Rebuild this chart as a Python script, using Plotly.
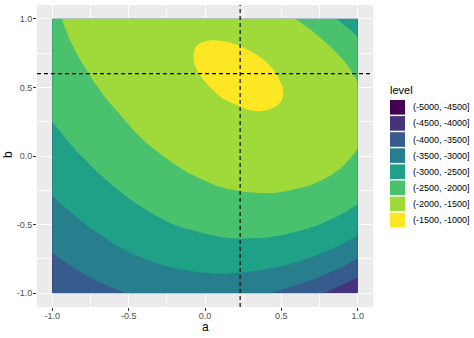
import plotly.graph_objects as go

# ---- data ----
a_vals = [-1.0, -0.9, -0.8, -0.7, -0.6, -0.5, -0.4, -0.3, -0.2, -0.1, 0.0,
          0.1, 0.2, 0.3, 0.4, 0.5, 0.6, 0.7, 0.8, 0.9, 1.0]
b_vals = [-1.0, -0.9, -0.8, -0.7, -0.6, -0.5, -0.4, -0.3, -0.2, -0.1, 0.0,
          0.1, 0.2, 0.3, 0.4, 0.5, 0.6, 0.7, 0.8, 0.9, 1.0]

# estimated surface value at each (b row, a column)
z_vals = [
    [-3918, -3818, -3724, -3638, -3560, -3491, -3432, -3384, -3349, -3327, -3321, -3331, -3359, -3408, -3480, -3576, -3700, -3854, -4041, -4266, -4532],
    [-3770, -3665, -3567, -3476, -3392, -3316, -3250, -3194, -3149, -3116, -3097, -3093, -3106, -3138, -3190, -3264, -3364, -3491, -3649, -3840, -4069],
    [-3630, -3520, -3420, -3320, -3240, -3150, -3080, -3020, -2970, -2930, -2900, -2880, -2880, -2900, -2940, -2990, -3070, -3180, -3310, -3480, -3670],
    [-3490, -3380, -3280, -3180, -3090, -3000, -2930, -2860, -2800, -2750, -2710, -2690, -2680, -2690, -2710, -2750, -2820, -2910, -3020, -3160, -3340],
    [-3360, -3250, -3150, -3050, -2950, -2860, -2780, -2710, -2650, -2590, -2550, -2520, -2500, -2500, -2510, -2540, -2600, -2670, -2770, -2890, -3050],
    [-3240, -3130, -3020, -2920, -2820, -2730, -2650, -2570, -2500, -2450, -2400, -2360, -2340, -2330, -2340, -2360, -2400, -2460, -2550, -2660, -2800],
    [-3130, -3010, -2900, -2800, -2700, -2610, -2520, -2440, -2370, -2310, -2260, -2220, -2190, -2180, -2180, -2190, -2230, -2280, -2360, -2460, -2590],
    [-3010, -2900, -2790, -2690, -2590, -2490, -2410, -2320, -2250, -2190, -2130, -2090, -2060, -2040, -2040, -2050, -2080, -2130, -2190, -2290, -2410],
    [-2910, -2790, -2680, -2580, -2480, -2380, -2300, -2210, -2140, -2080, -2020, -1970, -1940, -1920, -1910, -1920, -1950, -1990, -2050, -2140, -2260],
    [-2810, -2690, -2580, -2480, -2380, -2280, -2190, -2110, -2040, -1970, -1920, -1870, -1830, -1810, -1800, -1810, -1830, -1870, -1940, -2020, -2130],
    [-2710, -2600, -2490, -2380, -2280, -2190, -2100, -2020, -1940, -1880, -1820, -1770, -1740, -1720, -1710, -1710, -1740, -1780, -1840, -1930, -2040],
    [-2630, -2510, -2400, -2300, -2200, -2100, -2010, -1930, -1860, -1790, -1740, -1690, -1660, -1640, -1630, -1640, -1660, -1700, -1770, -1850, -1970],
    [-2540, -2430, -2320, -2210, -2110, -2020, -1930, -1850, -1780, -1720, -1660, -1620, -1590, -1570, -1560, -1570, -1600, -1650, -1720, -1810, -1920],
    [-2460, -2350, -2240, -2140, -2040, -1950, -1860, -1780, -1710, -1650, -1600, -1560, -1530, -1510, -1510, -1530, -1560, -1610, -1690, -1780, -1910],
    [-2380, -2270, -2170, -2060, -1970, -1880, -1800, -1720, -1650, -1600, -1550, -1510, -1490, -1480, -1480, -1500, -1540, -1600, -1680, -1790, -1920],
    [-2310, -2201, -2098, -1999, -1907, -1821, -1741, -1670, -1607, -1554, -1511, -1479, -1461, -1456, -1468, -1496, -1544, -1612, -1704, -1822, -1968],
    [-2243, -2138, -2037, -1942, -1853, -1771, -1696, -1629, -1571, -1523, -1486, -1462, -1451, -1454, -1474, -1513, -1571, -1652, -1757, -1889, -2051],
    [-2183, -2081, -1984, -1893, -1809, -1731, -1661, -1600, -1549, -1508, -1478, -1462, -1460, -1474, -1505, -1555, -1627, -1722, -1843, -1993, -2175],
    [-2131, -2033, -1941, -1854, -1775, -1703, -1640, -1586, -1542, -1509, -1489, -1483, -1492, -1517, -1562, -1627, -1715, -1828, -1969, -2140, -2346],
    [-2088, -1995, -1907, -1827, -1754, -1689, -1633, -1588, -1553, -1530, -1521, -1527, -1549, -1590, -1650, -1733, -1841, -1975, -2140, -2338, -2572],
    [-2055, -1968, -1887, -1813, -1748, -1692, -1645, -1609, -1585, -1575, -1579, -1599, -1638, -1696, -1776, -1880, -2011, -2171, -2364, -2594, -2863],
]

level_start, level_end, level_step = -5000, -1000, 500
level_labels = ["(-5000, -4500]", "(-4500, -4000]", "(-4000, -3500]", "(-3500, -3000]",
                "(-3000, -2500]", "(-2500, -2000]", "(-2000, -1500]", "(-1500, -1000]"]
level_colors = ["#440154", "#46337E", "#365C8D", "#277F8E",
                "#1FA187", "#4AC16D", "#9FDA3A", "#FDE725"]
a_hat = 0.23
b_hat = 0.6
tick_vals = [-1, -0.5, 0, 0.5, 1]
tick_text = ["-1.0", "-0.5", "0.0", "0.5", "1.0"]

# ---- figure ----
n = len(level_colors)
cscale = ([[0, level_colors[0]]] +
          [[(k + 1) / (n + 1), level_colors[k]] for k in range(n)] +
          [[1, level_colors[-1]]])

fig = go.Figure(go.Contour(
    x=a_vals, y=b_vals, z=z_vals,
    autocontour=False,
    contours=dict(start=level_start, end=level_end, size=level_step,
                  coloring="fill", showlines=False),
    line=dict(width=0, smoothing=1.3),
    colorscale=cscale, showscale=False, hoverinfo="skip"))

L_, R_, T_, B_ = 37, 101, 5, 31
W, H = 474, 338
pw, ph = W - L_ - R_, H - T_ - B_
def px_x(px): return (px - L_) / pw
def px_y(py): return (H - B_ - py) / ph

def axis_style(standoff):
    return dict(
        range=[-1.1, 1.1], tickvals=tick_vals, ticktext=tick_text,
        ticks="outside", ticklen=3, tickwidth=1, tickcolor="#333333",
        tickfont=dict(size=9, color="#4D4D4D"), ticklabelstandoff=standoff,
        showgrid=True, gridcolor="white", gridwidth=1.1,
        minor=dict(tickvals=[-0.75, -0.25, 0.25, 0.75], showgrid=True,
                   gridcolor="white", gridwidth=0.55, ticks=""),
        zeroline=False, showline=False)

fig.update_layout(
    width=W, height=H, margin=dict(l=L_, r=R_, t=T_, b=B_),
    paper_bgcolor="white", plot_bgcolor="#EBEBEB", showlegend=False,
    font=dict(family="Liberation Sans, Arial, sans-serif", color="black"),
    xaxis=axis_style(-3), yaxis=axis_style(-1))

shapes = [
    dict(type="line", xref="x", yref="paper", x0=a_hat, x1=a_hat, y0=0, y1=1,
         line=dict(color="black", width=1.1, dash="4px,3px"), layer="above"),
    dict(type="line", xref="paper", yref="y", x0=0, x1=1, y0=b_hat, y1=b_hat,
         line=dict(color="black", width=1.1, dash="4px,3px"), layer="above"),
]
annotations = [
    dict(text="a", xref="paper", yref="paper", x=px_x(205), y=px_y(327), showarrow=False,
         xanchor="center", yanchor="middle", font=dict(size=12, color="black")),
    dict(text="b", xref="paper", yref="paper", x=px_x(8), y=px_y(155), showarrow=False,
         xanchor="center", yanchor="middle", textangle=-90, font=dict(size=12, color="black")),
    dict(text="level", xref="paper", yref="paper", x=px_x(388), y=px_y(90), showarrow=False,
         xanchor="left", yanchor="middle", font=dict(size=11, color="black")),
]
for i, (lab, col) in enumerate(zip(level_labels, level_colors)):
    top = 100 + 16.1 * i
    shapes.append(dict(type="rect", xref="paper", yref="paper",
                       x0=px_x(390), x1=px_x(405), y0=px_y(top + 14.6), y1=px_y(top),
                       fillcolor=col, line=dict(width=0), layer="above"))
    annotations.append(dict(text=lab, xref="paper", yref="paper", x=px_x(411), y=px_y(top + 7.3),
                            showarrow=False, xanchor="left", yanchor="middle",
                            font=dict(size=9, color="black")))
fig.update_layout(shapes=shapes, annotations=annotations)

fig.write_html("out.html")
